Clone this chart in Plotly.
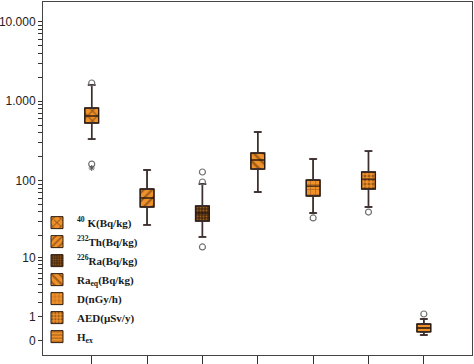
import numpy as np
import plotly.graph_objects as go

# ---- data (raw units) ----
categories = ["<sup>40</sup> K(Bq/kg)", "<sup>232</sup>Th(Bq/kg)", "<sup>226</sup>Ra(Bq/kg)",
              "Ra<sub>eq</sub>(Bq/kg)", "D(nGy/h)", "AED(µSv/y)", "H<sub>ex</sub>"]
q1_vals = [533, 46.2, 30.5, 140.3, 63.9, 78.4, 0.28]
median_vals = [653, 60.2, 38.7, 182.4, 85.5, 104.9, 0.435]
q3_vals = [822, 78.4, 47.6, 223.4, 101.9, 128.7, 0.61]
lower_vals = [335, 27.1, 18.9, 71.8, 38.7, 46.2, 0.172]
upper_vals = [1598, 136.4, 90.7, 410.5, 187.8, 236.7, 0.86]
outlier_vals = [[1693, 162], [], [128.7, 96.2, 13.9], [], [33.4], [39.8], [1.15]]
star_outlier_vals = [[144.6], [], [], [], [], [], []]
patterns = ["x", "/", ".", "\\", "+", ".", "-"]
pattern_sizes = [7, 6, 3, 7, 5, 4, 4]
pattern_solidity = [0.35, 0.35, 0.3, 0.35, 0.2, 0.45, 0.3]
tick_values = [0, 1, 10, 100, 1000, 10000]
tick_labels = ["0", "1", "10", "100", "1.000", "10.000"]


def tr(v):
    return np.log10(np.asarray(v, dtype=float) + 1.0)


ORANGE = "#f0912a"
BROWN = "#4a2608"
EDGE = "#2e1d12"
WHISK = "#3b2f2f"
BW = 0.25

fig = go.Figure()
for i, name in enumerate(categories):
    q1, q3 = tr(q1_vals[i]), tr(q3_vals[i])
    if i == 2:
        bg, fg = "#4a2a10", ORANGE
    else:
        bg, fg = ORANGE, BROWN
    fig.add_trace(go.Bar(
        x=[i], y=[q3 - q1], base=[q1], width=BW, name=name, showlegend=True,
        marker=dict(color=bg, line=dict(color=EDGE, width=1),
                    pattern=dict(shape=patterns[i], fgcolor=fg, bgcolor=bg,
                                 size=pattern_sizes[i], solidity=pattern_solidity[i])),
        hoverinfo="skip"))

for i in range(len(categories)):
    fig.add_trace(go.Box(
        x=[i], q1=[tr(q1_vals[i])], median=[tr(median_vals[i])], q3=[tr(q3_vals[i])],
        lowerfence=[tr(lower_vals[i])], upperfence=[tr(upper_vals[i])],
        width=BW, fillcolor="rgba(0,0,0,0)", line=dict(color=EDGE, width=1.3),
        boxpoints=False, showlegend=False, hoverinfo="skip"))
    # whisker caps
    fig.add_trace(go.Scatter(
        x=[i, i], y=[tr(q3_vals[i]), tr(q1_vals[i])], mode="markers",
        marker=dict(size=1, opacity=0), showlegend=False, hoverinfo="skip",
        error_y=dict(type="data", symmetric=False,
                     array=[tr(upper_vals[i]) - tr(q3_vals[i]), 0],
                     arrayminus=[0, tr(q1_vals[i]) - tr(lower_vals[i])],
                     width=4, thickness=1.5, color=WHISK)))
    if outlier_vals[i]:
        fig.add_trace(go.Scatter(
            x=[i] * len(outlier_vals[i]), y=tr(outlier_vals[i]), mode="markers",
            marker=dict(symbol="circle-open", size=6, color="#707070", line=dict(width=1.2)),
            showlegend=False, hoverinfo="skip"))
    if star_outlier_vals[i]:
        fig.add_trace(go.Scatter(
            x=[i] * len(star_outlier_vals[i]), y=tr(star_outlier_vals[i]), mode="markers",
            marker=dict(symbol="asterisk-open", size=5, color="#555555", line=dict(width=1)),
            showlegend=False, hoverinfo="skip"))

minor_vals = [float(tr(k * 10 ** d)) for d in range(0, 4) for k in range(2, 10)]

fig.update_layout(
    width=474, height=364,
    margin=dict(l=43, r=2, t=2, b=9, pad=0, autoexpand=False),
    paper_bgcolor="white", plot_bgcolor="white",
    font=dict(family="Liberation Sans, Arial, sans-serif"),
    barmode="overlay",
    showlegend=True,
    legend=dict(x=-0.014, y=0.011, xanchor="left", yanchor="bottom",
                bgcolor="rgba(0,0,0,0)", borderwidth=0, traceorder="normal",
                font=dict(family="Liberation Serif", size=11, color="#1a1a1a", weight="bold"),
                itemwidth=30),
    xaxis=dict(range=[-0.88, 6.87], tickvals=list(range(len(categories))),
               showticklabels=False, ticks="outside", ticklen=8, tickwidth=1,
               tickcolor="#333333", showline=True, linecolor="#444444", linewidth=1,
               mirror=True, showgrid=False, zeroline=False, automargin=False),
    yaxis=dict(range=[-0.182, 4.245], tickvals=[float(v) for v in tr(tick_values)],
               ticktext=tick_labels, ticks="outside", ticklen=4, tickwidth=1,
               tickcolor="#333333", showline=True, linecolor="#444444", linewidth=1,
               mirror=True, showgrid=False, zeroline=False, automargin=False,
               tickfont=dict(family="Liberation Sans, Arial, sans-serif", size=12, color="#222222"),
               minor=dict(tickvals=minor_vals, ticks="outside", ticklen=4, tickwidth=1,
                          tickcolor="#333333", showgrid=False)),
)

fig.write_html("out.html", config={"displayModeBar": False},
               post_script="document.body.style.margin='0px';document.body.style.padding='0px';")
